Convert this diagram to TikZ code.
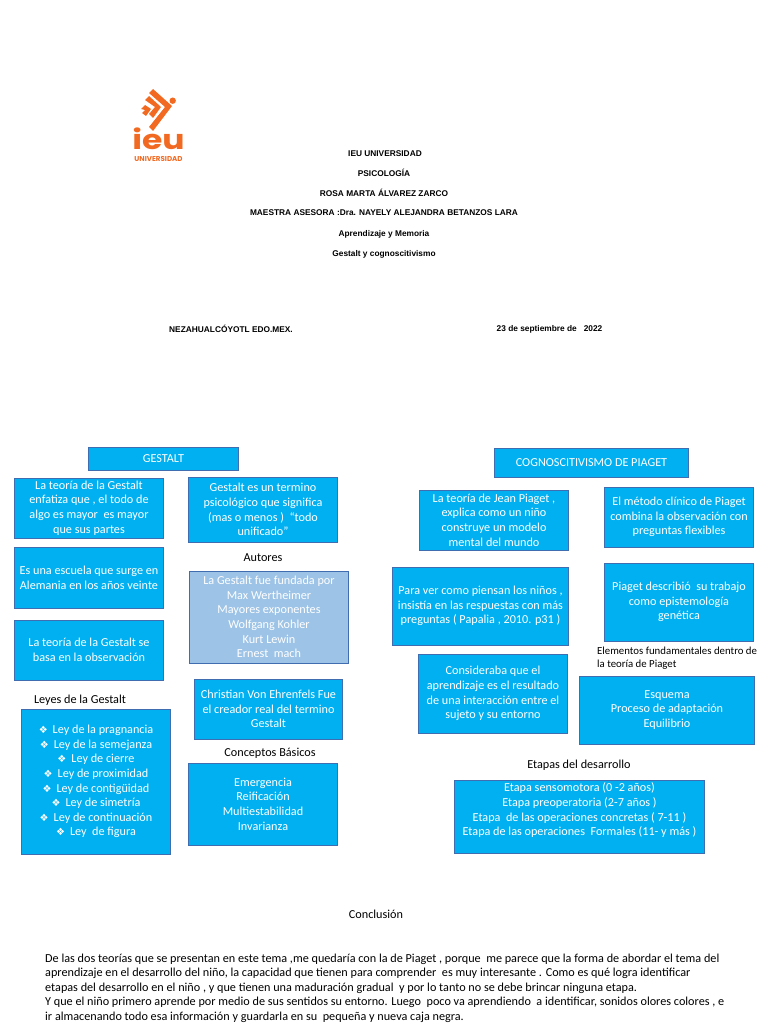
\documentclass[tikz,border=0pt]{standalone}
\usepackage{fontspec}
\setmainfont{Carlito}
\newfontfamily\headfont{Liberation Sans}
\newfontfamily\symfont{DejaVu Sans}
\newfontfamily\logofont{Poppins}
\definecolor{boxblue}{HTML}{00B0F0}
\definecolor{boxline}{HTML}{3F6DB0}
\definecolor{lightbox}{HTML}{9DC3E6}
\definecolor{ieuorange}{HTML}{F26A21}
\newcommand{\bul}{{\symfont\fontsize{10}{14.7}\selectfont ❖}\hspace{5pt}}
\newcommand{\bx}[7][]{%
  \node[boxstyle,#1,minimum width={#4-#3-0.5},minimum height={#6-#5}] (#2) at ({(#3+#4)/2},{(#5+#6)/2}) {#7};}
\tikzset{
  boxstyle/.style={draw=boxline,fill=boxblue,line width=0.9pt,text=white,align=center,inner sep=0pt,
    font=\fontsize{12.2}{14.65}\selectfont},
  heading/.style={font=\headfont\bfseries\fontsize{8.33}{10}\selectfont,text=black,inner sep=0pt},
  caption/.style={font=\fontsize{12.2}{14.7}\selectfont,text=black,inner sep=0pt,align=left},
}
\begin{document}
\begin{tikzpicture}[x=1pt,y=-1pt]
\useasboundingbox (0,0) rectangle (768,1024);
% logo
\fill[ieuorange] (149,93) -- (153,89) -- (172,106) -- (153,131) -- (149,127) -- (165,107) -- cycle;
\fill[ieuorange] (145,100) -- (149,96) -- (161,107) -- (153,118) -- (149,114) -- (155,107) -- cycle;
\fill[ieuorange] (141,109) -- (145,105) -- (151,109) -- (146,116) -- (142,113) -- (145,110) -- cycle;
\fill[ieuorange] (172.7,100.7) circle (3.2);
\node[anchor=base,inner sep=0pt,text=ieuorange,font=\logofont\bfseries\fontsize{33}{33}\selectfont] (logoname) at (158.5,150) {\scalebox{1}[0.82]{ieu}};
\node[anchor=base,inner sep=0pt,text=ieuorange,font=\logofont\bfseries\fontsize{7.1}{7.1}\selectfont] (logosub) at (158.5,161.5) {UNIVERSIDAD};
% header
\node[heading] (h1) at (385,154) {IEU UNIVERSIDAD};
\node[heading] (h2) at (384,173) {PSICOLOGÍA};
\node[heading] (h3) at (384,193) {ROSA MARTA ÁLVAREZ ZARCO};
\node[heading] (h4) at (384,213) {MAESTRA ASESORA :Dra. NAYELY ALEJANDRA BETANZOS LARA};
\node[heading] (h5) at (384,234) {Aprendizaje y Memoria};
\node[heading] (h6) at (384,254.5) {Gestalt y cognoscitivismo};
\node[heading] (h7) at (231,329) {NEZAHUALCÓYOTL EDO.MEX.};
\node[heading] (h8) at (549.5,329) {23 de septiembre de \ \ 2022};
% left column
\bx{gestalt}{88}{239}{447}{470}{GESTALT}
\bx{b1}{14}{164}{478}{538}{La teoría de la Gestalt\\enfatiza que , el todo de\\algo es mayor \ es mayor\\que sus partes}
\bx{b2}{188}{338}{477}{542}{Gestalt es un termino\\psicológico que significa\\(mas o menos ) \ “todo\\unificado”}
\bx{b3}{14}{164}{547}{608}{Es una escuela que surge en\\Alemania en los años veinte}
\bx{b4}{14}{164}{620}{680}{La teoría de la Gestalt se\\basa en la observación}
\bx[fill=lightbox]{b5}{189}{349}{571}{663}{La Gestalt fue fundada por\\Max Wertheimer\\Mayores exponentes\\Wolfgang Kohler\\Kurt Lewin\\Ernest \ mach}
\bx{b6}{194}{343}{679}{739}{Christian Von Ehrenfels Fue\\el creador real del termino\\Gestalt}
\bx{b7}{21}{171}{709}{854}{\bul Ley de la pragnancia\\\bul Ley de la semejanza\\\bul Ley de cierre\\\bul Ley de proximidad\\\bul Ley de contigüidad\\\bul Ley de simetría\\\bul Ley de continuación\\\bul Ley \ de figura}
\bx{b8}{188}{338}{763}{845}{Emergencia\\Reificación\\Multiestabilidad\\Invarianza}
\node[caption] (autores) at (263,558) {Autores};
\node[caption] (leyes) at (80,700) {Leyes de la Gestalt};
\node[caption] (conceptos) at (270,753) {Conceptos Básicos};
% right column
\bx{cog}{494}{689}{448}{477}{COGNOSCITIVISMO DE PIAGET}
\bx{c1}{419}{569}{490}{550}{La teoría de Jean Piaget ,\\explica como un niño\\construye un modelo\\mental del mundo}
\bx{c2}{604}{754}{487}{547}{El método clínico de Piaget\\combina la observación con\\preguntas flexibles}
\bx{c3}{392}{569}{567}{645}{Para ver como piensan los niños ,\\insistía en las respuestas con más\\preguntas ( Papalia , 2010. p31 )}
\bx{c4}{604}{754}{563}{641}{Piaget describió \ su trabajo\\como epistemología\\genética}
\bx{c5}{418}{568}{654}{733}{Consideraba que el\\aprendizaje es el resultado\\de una interacción entre el\\sujeto y su entorno}
\bx{c6}{579}{755}{676}{744}{Esquema\\Proceso de adaptación\\Equilibrio}
\bx[text depth=14pt]{c7}{454}{705}{780}{853}{Etapa sensomotora (0 -2 años)\\Etapa preoperatoria (2-7 años )\\Etapa \ de las operaciones concretas ( 7-11 )\\Etapa de las operaciones \ Formales (11- y más )}
\node[caption,anchor=west,font=\fontsize{10.8}{13.3}\selectfont] (elem) at (597,658) {Elementos fundamentales dentro de\\la teoría de Piaget};
\node[caption] (etapas) at (579,765) {Etapas del desarrollo};
% conclusion
\node[caption] (concl) at (376,914) {Conclusión};
\node[caption,anchor=north west,font=\fontsize{12.2}{14.6}\selectfont] (par) at (45,953.5) {De las dos teorías que se presentan en este tema ,me quedaría con la de Piaget , porque \ me parece que la forma de abordar el tema del\\aprendizaje en el desarrollo del niño, la capacidad que tienen para comprender \ es muy interesante . Como es qué logra identificar\\etapas del desarrollo en el niño , y que tienen una maduración gradual \ y por lo tanto no se debe brincar ninguna etapa.\\Y que el niño primero aprende por medio de sus sentidos su entorno. Luego \ poco va aprendiendo \ a identificar, sonidos olores colores , e\\ir almacenando todo esa información y guardarla en su \ pequeña y nueva caja negra.};
\end{tikzpicture}
\end{document}
